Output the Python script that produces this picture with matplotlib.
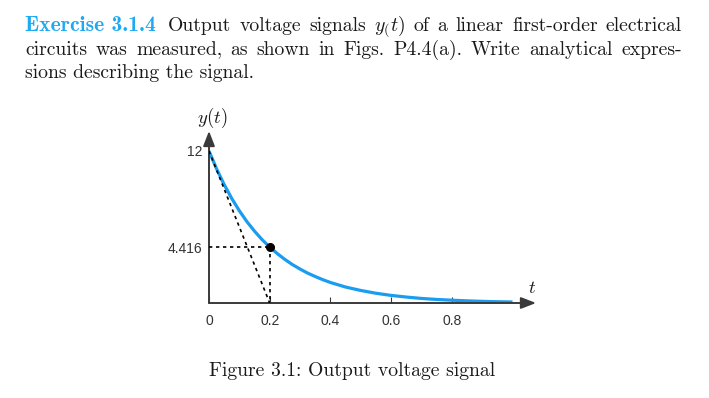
import matplotlib
matplotlib.use("Agg")
import matplotlib.pyplot as plt

# signal samples
t_vals = [0.0, 0.025, 0.05, 0.075, 0.1, 0.125, 0.15, 0.175, 0.2, 0.225, 0.25,
          0.275, 0.3, 0.325, 0.35, 0.375, 0.4, 0.45, 0.5, 0.55, 0.6, 0.65,
          0.7, 0.75, 0.8, 0.85, 0.9, 0.95, 1.0]
y_vals = [12.0, 10.59, 9.35, 8.25, 7.28, 6.42, 5.67, 5.00, 4.416, 3.90, 3.44,
          3.03, 2.68, 2.36, 2.09, 1.84, 1.62, 1.26, 0.99, 0.77, 0.60, 0.47,
          0.36, 0.28, 0.22, 0.17, 0.13, 0.10, 0.08]
y0 = 12.0
tau = 0.2
y_tau = 4.416
x_ticks = [0, 0.2, 0.4, 0.6, 0.8]
x_ticklabels = ["0", "0.2", "0.4", "0.6", "0.8"]
y_ticks = [y_tau, y0]
y_ticklabels = ["4.416", "12"]

heading = "Exercise 3.1.4"
line1 = ["Output", "voltage", "signals", "$y_(t)$", "of", "a", "linear",
         "first-order", "electrical"]
line2 = ["circuits", "was", "measured,", "as", "shown", "in", "Figs.", "P4.4(a).",
         "Write", "analytical", "expres-"]
line3 = "sions describing the signal."
caption = "Figure 3.1: Output voltage signal"

plt.rcParams["mathtext.fontset"] = "cm"
plt.rcParams["axes.unicode_minus"] = False

W, H = 709, 398
fig = plt.figure(figsize=(W / 100, H / 100), dpi=100)
renderer = fig.canvas.get_renderer()

BLUE_TXT = "#1eaaf0"
TXT = "#1a1a1a"
FS = 14.2
X0, X1 = 25, 682


def justify(words, x0, x1, ybase):
    texts = [fig.text(0, ybase / H, w, family="cmr10", fontsize=FS, color=TXT,
                      va="baseline", ha="left") for w in words]
    widths = [t.get_window_extent(renderer).width for t in texts]
    gap = (x1 - x0 - sum(widths)) / (len(texts) - 1)
    x = x0
    for t, wd in zip(texts, widths):
        t.set_x(x / W)
        x += wd + gap


# bold heading: cmb10 is narrower than the bold-extended face, so fit its width
head = fig.text(X0 / W, (H - 31) / H, heading, family="cmb10", fontsize=FS,
                color=BLUE_TXT, va="baseline", ha="left")
hw = head.get_window_extent(renderer).width
head.set_fontsize(FS * min(138.0 / hw, 1.1))
hw = head.get_window_extent(renderer).width

justify(line1, X0 + hw + 12, X1, H - 31)
justify(line2, X0, X1, H - 55)
fig.text(X0 / W, (H - 78) / H, line3, family="cmr10", fontsize=FS,
         color=TXT, va="baseline", ha="left")
fig.text(352 / W, (H - 376) / H, caption, family="cmr10", fontsize=FS,
         color=TXT, va="baseline", ha="center")

# axes: t=0 at px 209, 303.5 px per unit; y=0 at px 303, 12.67 px per unit
px_t = 303.5
px_y = 152.0 / 12.0
left, right, top, bottom = 209, 536, 131, 303
ax = fig.add_axes([left / W, (H - bottom) / H, (right - left) / W, (bottom - top) / H])
ax.set_xlim(0, (right - left) / px_t)
ax.set_ylim(0, (bottom - top) / px_y)
ax.patch.set_visible(False)
for s in ax.spines.values():
    s.set_visible(False)

AX_COL = "#3a3a3a"
arrow = dict(arrowstyle="-|>,head_length=0.9,head_width=0.35",
             color=AX_COL, lw=1.4, shrinkA=0, shrinkB=0)
ax.annotate("", xy=(1.0, 0), xytext=(0, 0), xycoords="axes fraction", arrowprops=arrow)
ax.annotate("", xy=(0, 1.0), xytext=(0, 0), xycoords="axes fraction", arrowprops=arrow)

ax.plot(t_vals, y_vals, color="#1a9cf0", lw=2.3, solid_capstyle="butt", zorder=2)

dot = (0, (2, 2.2))
ax.plot([0, tau], [y0, 0], color="black", lw=1.2, ls=dot, zorder=3)
ax.plot([0, tau], [y_tau, y_tau], color="black", lw=1.2, ls=dot, zorder=3)
ax.plot([tau, tau], [y_tau, 0], color="black", lw=1.2, ls=dot, zorder=3)
ax.plot([tau], [y_tau], "o", color="black", ms=5.5, zorder=4)

ax.set_xticks(x_ticks)
ax.set_xticklabels(x_ticklabels, family="Liberation Sans", fontsize=10, color="#333333")
ax.set_yticks(y_ticks)
ax.set_yticklabels(y_ticklabels, family="Liberation Sans", fontsize=10, color="#333333")
ax.tick_params(axis="x", direction="in", length=4, width=0.8, color=AX_COL, pad=8)
ax.tick_params(axis="y", length=0, pad=4.5)

fig.text(212 / W, (H - 123) / H, "$y(t)$", fontsize=13.5, ha="center", va="baseline", color=TXT)
fig.text(532 / W, (H - 293) / H, "$t$", fontsize=13.5, ha="center", va="baseline", color=TXT)

fig.savefig("out.png", dpi=100)
